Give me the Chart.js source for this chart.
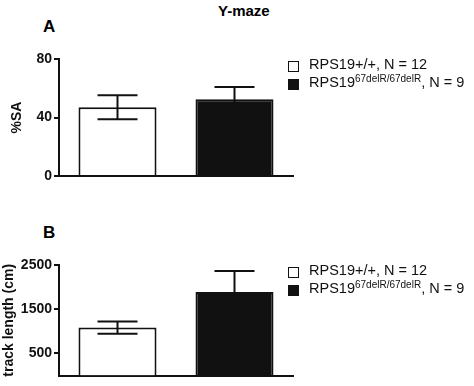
<!DOCTYPE html>
<html>
<head>
<meta charset="utf-8">
<script src="https://cdn.jsdelivr.net/npm/chart.js@4"></script>
<style>
  body { margin: 0; background: #fff; font-family: "Liberation Sans", Arial, sans-serif; }
  #wrap { position: relative; width: 474px; height: 386px; overflow: hidden; }
  canvas { position: absolute; left: 0; }
  .txt { position: absolute; color: #000; white-space: nowrap; }
  .bold { font-weight: bold; }
  .legend { position: absolute; left: 288px; font-size: 14.5px; color: #111; }
  .row { position: absolute; left: 0; height: 14px; white-space: nowrap; }
  .box { position: absolute; left: 0; top: 1px; width: 9px; height: 9px; border: 1.5px solid #111; background: #fff; }
  .box.dark { background: #111; }
  .lab { position: absolute; left: 21px; top: -4px; }
  .lab sup { font-size: 10px; vertical-align: 5px; line-height: 0; }
</style>
</head>
<body>
<div id="wrap">
  <div class="txt bold" style="left:218px; top:2px; font-size:15px;">Y-maze</div>
  <div class="txt bold" style="left:43px; top:17px; font-size:17px;">A</div>
  <div class="txt bold" style="left:43px; top:223px; font-size:17px;">B</div>
  <canvas id="chartA" width="300" height="190" style="top:0;"></canvas>
  <canvas id="chartB" width="300" height="196" style="top:190px;"></canvas>
  <div class="legend" id="legA" style="top:60px;"></div>
  <div class="legend" id="legB" style="top:266px;"></div>
</div>
<script>
// ----- data -----
var groups = ['RPS19+/+', 'RPS19<sup>67delR/67delR</sup>'];
var groupN = [12, 9];
var saMean = [47, 52.4];
var saErr = [8.2, 8.4];
var trackMean = [1085, 1890];
var trackErr = [138, 477];
var saTicks = [0, 40, 80];
var trackTicks = [500, 1500, 2500];

var barFill = ['#ffffff', '#111111'];

// legends (html so the superscript stays as text)
['legA', 'legB'].forEach(function (id) {
    var el = document.getElementById(id);
    groups.forEach(function (g, i) {
        var row = document.createElement('div');
        row.className = 'row';
        row.style.top = (i * 18) + 'px';
        row.innerHTML = '<span class="box' + (i ? ' dark' : '') + '"></span>' +
            '<span class="lab">' + g + ', N = ' + groupN[i] + '</span>';
        el.appendChild(row);
    });
});

// error bars drawn from the dataset's err array
var errorBars = {
    id: 'errorBars',
    afterDatasetsDraw: function (chart) {
        var ctx = chart.ctx;
        var ds = chart.data.datasets[0];
        var meta = chart.getDatasetMeta(0);
        var y = chart.scales.y;
        ctx.save();
        ctx.strokeStyle = '#111';
        ctx.lineWidth = 2;
        meta.data.forEach(function (bar, i) {
            var x = bar.x;
            var top = y.getPixelForValue(ds.data[i] + ds.err[i]);
            var bot = y.getPixelForValue(ds.data[i] - ds.err[i]);
            ctx.beginPath();
            ctx.moveTo(x, top); ctx.lineTo(x, bot);
            ctx.moveTo(x - 20, top); ctx.lineTo(x + 20, top);
            ctx.moveTo(x - 20, bot); ctx.lineTo(x + 20, bot);
            ctx.stroke();
        });
        ctx.restore();
    }
};

function makeChart(id, mean, err, ticks, title, titlePad, pad) {
    var ctx = document.getElementById(id).getContext('2d');
    return new Chart(ctx, {
        type: 'bar',
        data: {
            labels: ['wt', 'mut'],
            datasets: [{
                data: mean,
                err: err,
                backgroundColor: barFill,
                borderColor: '#111',
                borderWidth: 2,
                barPercentage: 0.667,
                categoryPercentage: 1
            }]
        },
        options: {
            responsive: false,
            animation: false,
            devicePixelRatio: 1,
            layout: { padding: pad },
            plugins: { legend: { display: false }, tooltip: { enabled: false } },
            scales: {
                x: {
                    ticks: { display: false },
                    grid: { display: false },
                    border: { display: true, color: '#111', width: 2 },
                    afterFit: function (s) { s.height = 0; }
                },
                y: {
                    min: 0,
                    max: ticks[ticks.length - 1],
                    afterBuildTicks: function (s) {
                        s.ticks = ticks.map(function (v) { return { value: v }; });
                    },
                    ticks: {
                        color: '#111',
                        padding: 2,
                        callback: function (v) { return String(v); },
                        font: { family: 'Liberation Sans', size: 14, weight: 'bold' }
                    },
                    grid: { drawOnChartArea: false, drawTicks: true, tickLength: 5, color: '#111', lineWidth: 2 },
                    border: { display: true, color: '#111', width: 2 },
                    title: {
                        display: true,
                        text: title,
                        color: '#111',
                        padding: { top: titlePad, bottom: 0 },
                        font: { family: 'Liberation Sans', size: 14, weight: 'bold' }
                    },
                    afterFit: function (s) { s.width = 59; }
                }
            }
        },
        plugins: [errorBars]
    });
}

makeChart('chartA', saMean, saErr, saTicks, '%SA', 9, { left: 0, right: 7, top: 59, bottom: 14 });
makeChart('chartB', trackMean, trackErr, trackTicks, 'track length (cm)', 1, { left: 0, right: 7, top: 75, bottom: 4 });
</script>
</body>
</html>
